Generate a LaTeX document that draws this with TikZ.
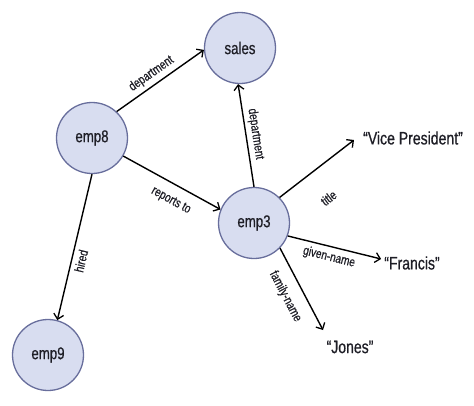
\documentclass[tikz,border=0pt]{standalone}
\usepackage{fontspec}
\setmainfont{Liberation Sans}[FakeStretch=0.78,FakeBold=0.6]
\usetikzlibrary{arrows.meta}
\definecolor{nodefill}{RGB}{216,221,240}
\definecolor{nodeline}{RGB}{104,110,156}
\definecolor{txt}{RGB}{30,30,38}
\begin{document}
\begin{tikzpicture}[x=1pt,y=-1pt,
  res/.style={circle,draw=nodeline,fill=nodefill,line width=1.3pt,minimum size=71pt,inner sep=0pt,
    font=\fontsize{17}{20}\selectfont,text=txt},
  lit/.style={inner sep=2pt,font=\fontsize{18}{21}\selectfont,text=txt},
  rel/.style={-{Straight Barb[length=5pt,width=10pt,line width=1.3pt]},line width=1.4pt,black},
  lab/.style={sloped,inner sep=1pt,font=\fontsize{13}{15}\selectfont,text=txt}]
\useasboundingbox (0,0) rectangle (474,405);
\node[res] (sales) at (240,48) {sales};
\node[res] (emp8) at (92,138) {emp8};
\node[res] (emp3) at (254,223) {emp3};
\node[res] (emp9) at (48,355) {emp9};
\node[lit] (vp) at (413,138) {“Vice President”};
\node[lit] (francis) at (412,263) {“Francis”};
\node[lit] (jones) at (350,347) {“Jones”};
\draw[rel] (emp8.47) -- (sales.183) node[lab,pos=0.47,above=3pt] {department};
\draw[rel] (emp3.90) -- (sales.-93) node[lab,pos=0.5,above=2pt] {department};
\draw[rel] (emp8.-30) -- (emp3.158) node[lab,pos=0.57,below=9pt] {reports to};
\draw[rel] (emp8.-90) -- (emp9.75) node[lab,pos=0.58,below=3pt] {hired};
\draw[rel] (emp3.45) -- ([xshift=-7pt,yshift=-2pt]vp.west) node[lab,pos=0.41,below=24pt] {title};
\draw[rel] (emp3.-21) -- ([xshift=-1pt,yshift=4pt]francis.west) node[lab,pos=0.47,below=3pt] {given-name};
\draw[rel] (emp3.-44) -- ([xshift=-27pt,yshift=17pt]jones.center) node[lab,pos=0.49,below=10pt] {family-name};
\end{tikzpicture}
\end{document}
